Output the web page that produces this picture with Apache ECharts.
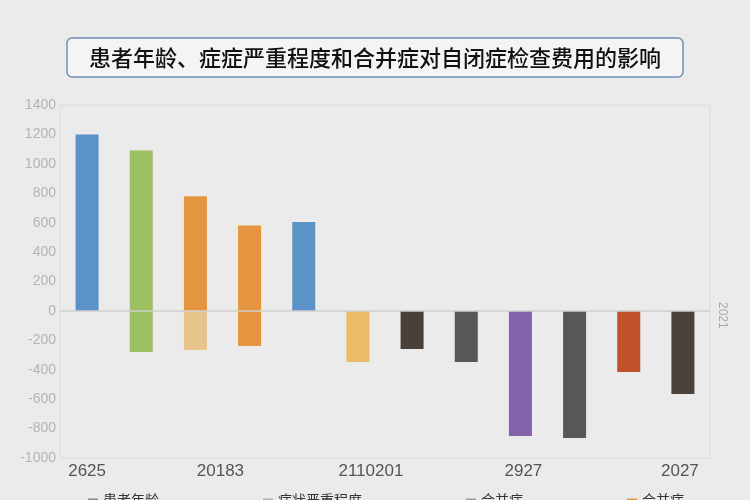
<!DOCTYPE html>
<html>
<head>
<meta charset="utf-8">
<script src="https://cdn.jsdelivr.net/npm/echarts@6/dist/echarts.min.js"></script>
<style>
html,body{margin:0;padding:0;background:#ebebeb;}
#chart{width:750px;height:500px;}
</style>
</head>
<body>
<div id="chart"></div>
<script>
var titleText = '患者年龄、症症严重程度和合并症对自闭症检查费用的影响';
var categories = ['c1','c2','c3','c4','c5','c6','c7','c8','c9','c10','c11','c12'];
var tickLabels = ['2625','','20183','','','2110201','','','2927','','','2027'];
var upValues = [1200, 1090, 780, 580, 605, 0, 0, 0, 0, 0, 0, 0];
var downValues = [0, -280, -265, -238, 0, -347, -259, -347, -850, -864, -415, -565];
var legendNames = ['患者年龄', '症状严重程度', '合并症', '合并症 '];

var upColors = ['#5b93c9','#9dc160','#e5953f','#e5953f','#5b93c9','#ebbb6a','#4a403a','#575757','#8262a8','#575757','#c0512a','#4b413b'];
var downColors = ['#5b93c9','#9dc160','#e8c48a','#e5953f','#5b93c9','#ebbb6a','#4a403a','#575757','#8262a8','#575757','#c0512a','#4b413b'];
var legendColors = ['#8a8a8a','#b0b0b0','#9a9a9a','#e5953f'];
var labelShift = [0,0,50,0,0,26,0,0,6,0,0,-6];

var chart = echarts.init(document.getElementById('chart'));

var catData = categories.map(function(c, i){
  return {value: c, textStyle: {padding: labelShift[i] >= 0 ? [0,0,0,labelShift[i]] : [0,-labelShift[i],0,0]}};
});

var series = [
  {
    name: 'up', type: 'bar', stack: 's', barWidth: 23,
    data: upValues.map(function(v, i){ return {value: v, itemStyle: {color: upColors[i]}}; }),
    markLine: {
      silent: true, symbol: 'none', label: {show: false},
      lineStyle: {color: '#cfcfcf', type: 'solid', width: 1.5},
      data: [{yAxis: 0}]
    }
  },
  {
    name: 'down', type: 'bar', stack: 's', barWidth: 23,
    data: downValues.map(function(v, i){ return {value: v, itemStyle: {color: downColors[i]}}; })
  }
];
legendNames.forEach(function(n, i){
  series.push({name: n, type: 'line', data: [], itemStyle: {color: legendColors[i]}, lineStyle: {color: legendColors[i]}});
});

chart.setOption({
  backgroundColor: '#ebebeb',
  animation: false,
  title: {
    text: titleText,
    left: 'center',
    top: 38,
    padding: [7, 22, 7, 22],
    backgroundColor: '#f4f4f4',
    borderColor: '#6f8fb8',
    borderWidth: 1.5,
    borderRadius: 5,
    textStyle: {fontSize: 22, fontWeight: 500, color: '#111', fontFamily: 'Noto Sans CJK SC', lineHeight: 25}
  },
  legend: {
    data: legendNames,
    bottom: -12,
    left: 83,
    itemGap: 104,
    icon: 'rect',
    itemWidth: 10,
    itemHeight: 3,
    textStyle: {fontSize: 14, color: '#333', fontFamily: 'Noto Sans CJK SC'}
  },
  grid: {left: 60, right: 40, top: 105, bottom: 42, show: true, borderColor: '#dcdcdc', borderWidth: 1, backgroundColor: 'transparent'},
  xAxis: {
    type: 'category',
    data: catData,
    axisLine: {onZero: false, show: false},
    axisTick: {show: false},
    axisLabel: {
      interval: 0, margin: 5, fontSize: 17, color: '#555', fontFamily: 'Liberation Sans',
      formatter: function(v, i){ return tickLabels[i]; }
    }
  },
  yAxis: {
    type: 'value',
    min: -1000, max: 1400, interval: 200,
    axisLine: {show: false},
    axisTick: {show: false},
    splitLine: {show: false},
    axisLabel: {fontSize: 14, color: '#b5b5b5', margin: 4, fontFamily: 'Liberation Sans',
      formatter: function(v){ return String(v); }}
  },
  graphic: [
    {type: 'text', left: 716, top: 302, rotation: -Math.PI/2,
     style: {text: '2021', fill: '#aaa', fontSize: 12, fontFamily: 'Liberation Sans'}}
  ],
  series: series
});
</script>
</body>
</html>
